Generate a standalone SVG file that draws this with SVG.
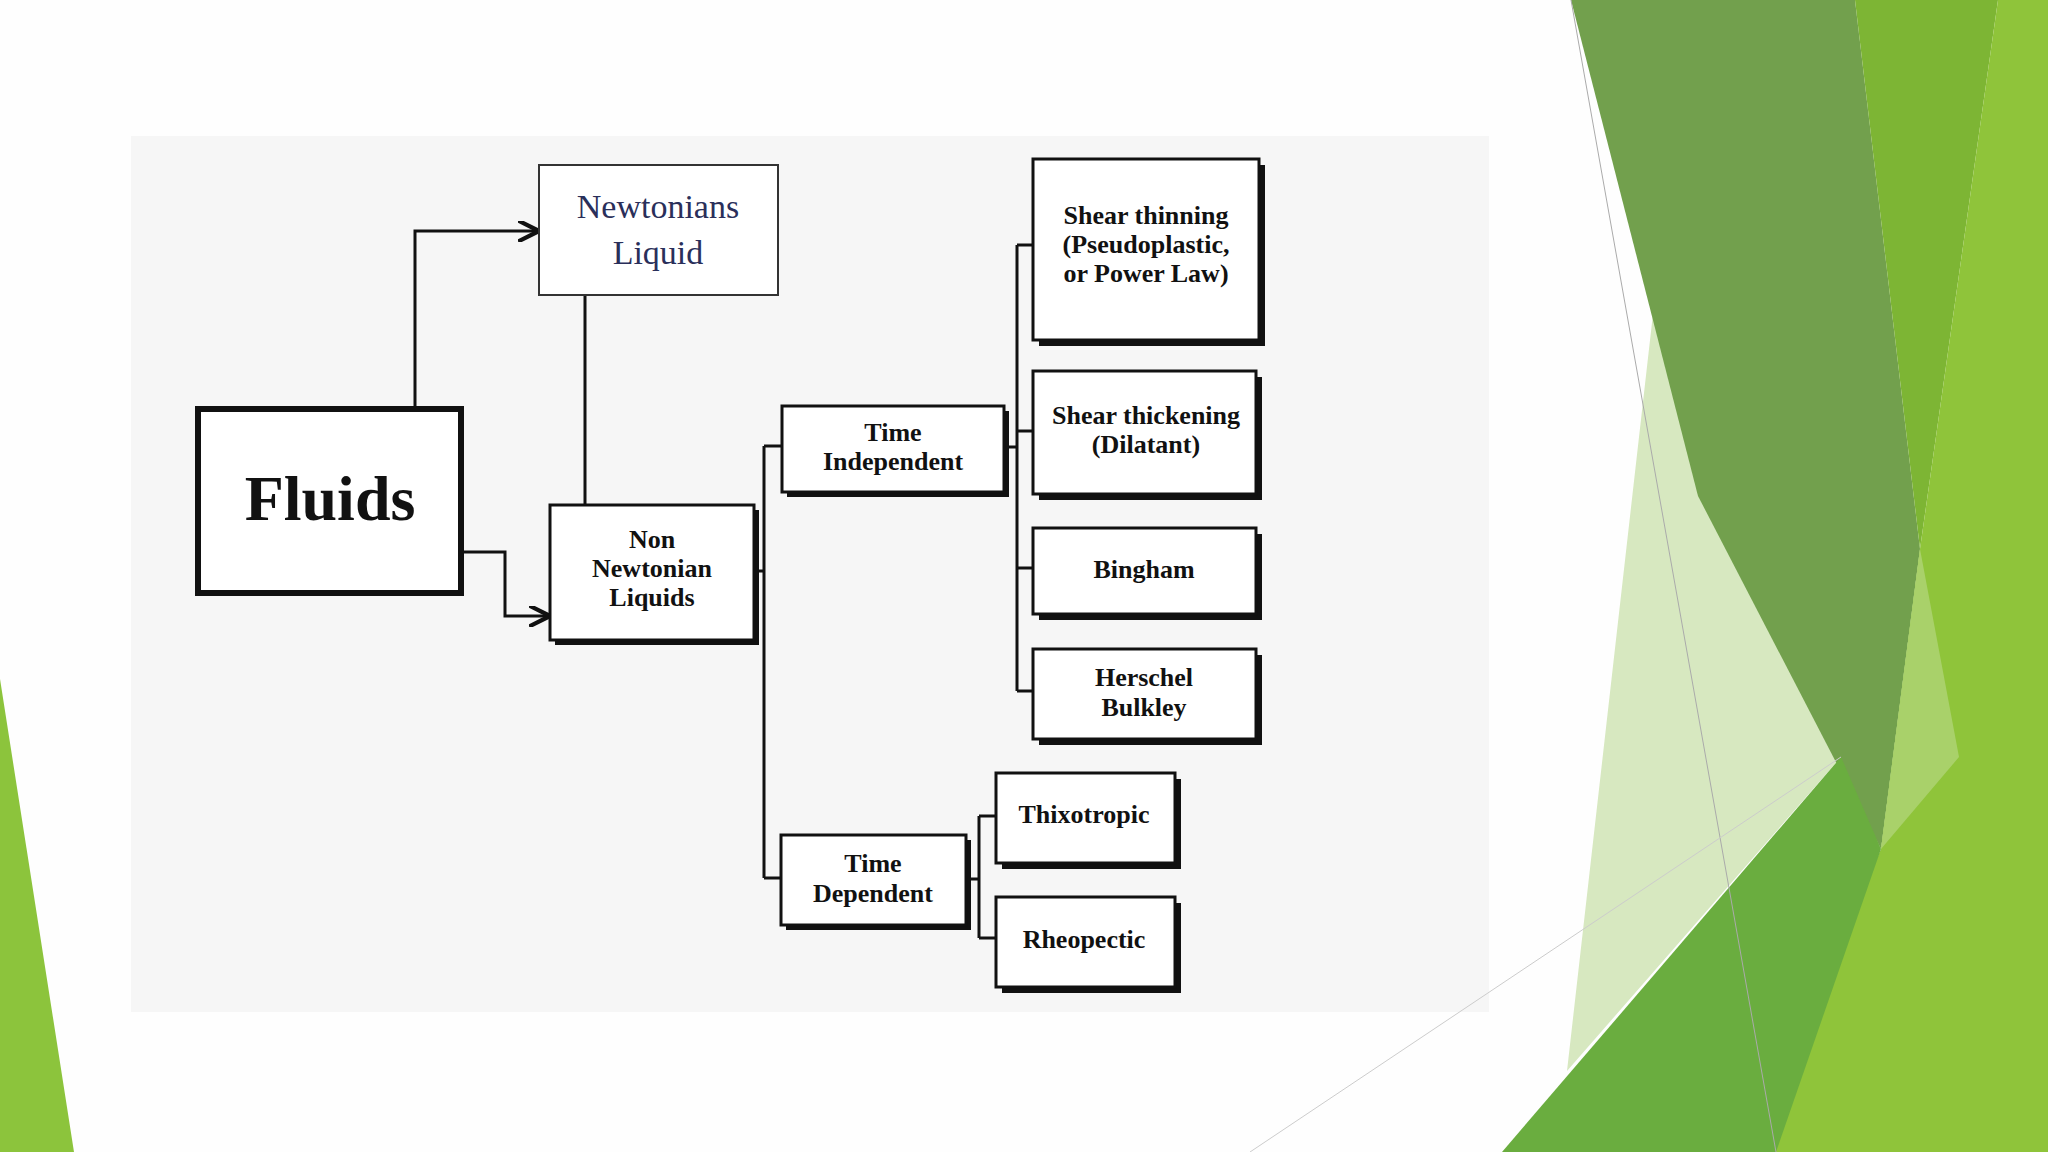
<svg xmlns="http://www.w3.org/2000/svg" width="2048" height="1152" viewBox="0 0 2048 1152">
<defs>
<style>
.b{fill:#fff;stroke:#111;stroke-width:3}
.sh{fill:#111}
.t{font-family:"Liberation Serif",serif;font-weight:bold;font-size:26px;fill:#111;text-anchor:middle}
.c{fill:none;stroke:#111;stroke-width:3}
</style>
<marker id="a" viewBox="0 0 10 10" refX="9" refY="5" markerWidth="7" markerHeight="7" orient="auto"><path d="M0,0 L10,5 L0,10" fill="none" stroke="#111" stroke-width="2"/></marker>
</defs>
<rect width="2048" height="1152" fill="#fefefe"/>
<rect x="131" y="136" width="1358" height="876" fill="#f6f6f6"/>
<g id="decor">
<polygon points="0,679 74,1152 0,1152" fill="#8cc43c"/>
<polygon points="1659,261 1737,483 1841,757 1567,1071" fill="#d7e8c0"/>
<polygon points="1571,0 1855,0 1920,549 1881,849 1698,496" fill="#72a04d"/>
<polygon points="1841,0 1998,0 1920,549 1855,0" fill="#7db534"/>
<polygon points="1998,0 2048,0 2048,1152 1750,1152 1881,849 1920,549" fill="#8fc43a"/>
<polygon points="1920,549 1959,757 1881,849" fill="#a9d16a"/>
<polygon points="1502,1152 1841,757 1881,849 1776,1152" fill="#6aad3f"/>
<line x1="1571" y1="0" x2="1776" y2="1152" stroke="#aaa" stroke-width="1"/>
<line x1="1250" y1="1152" x2="1841" y2="757" stroke="#ccc" stroke-width="1"/>
</g>
<g id="connectors">
<polyline class="c" points="415,409 415,231 537,231" marker-end="url(#a)"/>
<polyline class="c" points="461,552 505,552 505,616 548,616" marker-end="url(#a)"/>
<line class="c" x1="585" y1="295" x2="585" y2="505"/>
<polyline class="c" points="754,571 764,571"/>
<line class="c" x1="764" y1="446" x2="764" y2="878"/>
<line class="c" x1="764" y1="446" x2="782" y2="446"/>
<line class="c" x1="764" y1="878" x2="781" y2="878"/>
<line class="c" x1="1004" y1="447" x2="1017" y2="447"/>
<line class="c" x1="1017" y1="245" x2="1017" y2="691"/>
<line class="c" x1="1017" y1="245" x2="1033" y2="245"/>
<line class="c" x1="1017" y1="431" x2="1033" y2="431"/>
<line class="c" x1="1017" y1="568" x2="1033" y2="568"/>
<line class="c" x1="1017" y1="691" x2="1033" y2="691"/>
<line class="c" x1="966" y1="879" x2="979" y2="879"/>
<line class="c" x1="979" y1="816" x2="979" y2="938"/>
<line class="c" x1="979" y1="816" x2="996" y2="816"/>
<line class="c" x1="979" y1="938" x2="996" y2="938"/>
</g>
<g id="fluids"><rect x="198" y="409" width="263" height="184" fill="#fff" stroke="#111" stroke-width="6"/><text x="330" y="520" class="t" style="font-size:64px">Fluids</text></g>
<g id="newtonian"><rect x="539" y="165" width="239" height="130" fill="#fff" stroke="#333" stroke-width="2"/><text x="658" y="218" class="t" style="font-weight:normal;font-size:34px;fill:#2a2f5a">Newtonians</text><text x="658" y="264" class="t" style="font-weight:normal;font-size:34px;fill:#2a2f5a">Liquid</text></g>
<g id="nonnewtonian"><rect class="sh" x="555" y="510" width="204" height="135"/><rect class="b" x="550" y="505" width="204" height="135"/><text x="652" y="548" class="t">Non</text><text x="652" y="577" class="t">Newtonian</text><text x="652" y="606" class="t">Liquids</text></g>
<g id="timeindep"><rect class="sh" x="787" y="411" width="222" height="86"/><rect class="b" x="782" y="406" width="222" height="86"/><text x="893" y="441" class="t">Time</text><text x="893" y="470" class="t">Independent</text></g>
<g id="timedep"><rect class="sh" x="786" y="840" width="185" height="90"/><rect class="b" x="781" y="835" width="185" height="90"/><text x="873" y="872" class="t">Time</text><text x="873" y="902" class="t">Dependent</text></g>
<g id="thinning"><rect class="sh" x="1039" y="165" width="226" height="181"/><rect class="b" x="1033" y="159" width="226" height="181"/><text x="1146" y="224" class="t">Shear thinning</text><text x="1146" y="253" class="t">(Pseudoplastic,</text><text x="1146" y="282" class="t">or Power Law)</text></g>
<g id="thickening"><rect class="sh" x="1039" y="377" width="223" height="123"/><rect class="b" x="1033" y="371" width="223" height="123"/><text x="1146" y="424" class="t">Shear thickening</text><text x="1146" y="453" class="t">(Dilatant)</text></g>
<g id="bingham"><rect class="sh" x="1039" y="534" width="223" height="86"/><rect class="b" x="1033" y="528" width="223" height="86"/><text x="1144" y="578" class="t">Bingham</text></g>
<g id="herschel"><rect class="sh" x="1039" y="655" width="223" height="90"/><rect class="b" x="1033" y="649" width="223" height="90"/><text x="1144" y="686" class="t">Herschel</text><text x="1144" y="716" class="t">Bulkley</text></g>
<g id="thixotropic"><rect class="sh" x="1002" y="779" width="179" height="90"/><rect class="b" x="996" y="773" width="179" height="90"/><text x="1084" y="823" class="t">Thixotropic</text></g>
<g id="rheopectic"><rect class="sh" x="1002" y="903" width="179" height="90"/><rect class="b" x="996" y="897" width="179" height="90"/><text x="1084" y="948" class="t">Rheopectic</text></g>
</svg>
